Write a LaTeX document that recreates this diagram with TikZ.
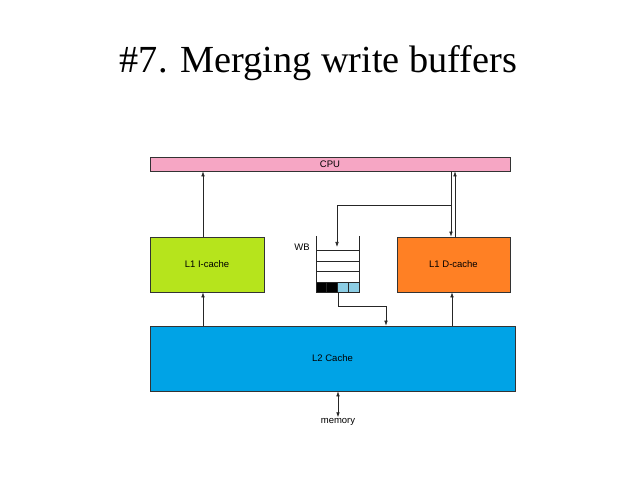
\documentclass[tikz,border=0pt]{standalone}
\usepackage{fontspec}
\setmainfont{Liberation Serif}
\setsansfont{Liberation Sans}
\usetikzlibrary{arrows.meta}
\definecolor{cpupink}{RGB}{246,166,196}
\definecolor{icgreen}{RGB}{182,228,28}
\definecolor{dcorange}{RGB}{255,128,36}
\definecolor{ltwoblue}{RGB}{0,163,230}
\definecolor{wbblue}{RGB}{140,205,228}
\tikzset{
  box/.style={draw=black!80,line width=0.7pt,inner sep=0pt,
    font=\sffamily\fontsize{9.5}{11}\selectfont},
  lbl/.style={inner sep=1pt,font=\sffamily\fontsize{9.5}{11}\selectfont},
  wire/.style={draw=black!85,line width=0.6pt},
  tip/.style={-{Latex[length=5pt,width=3.6pt]}},
  tips/.style={{Latex[length=5pt,width=3.6pt]}-{Latex[length=5pt,width=3.6pt]}}
}
\begin{document}
\begin{tikzpicture}[x=1pt,y=-1pt]
  \useasboundingbox (0,0) rectangle (638,478);
  \node[anchor=base] (title) at (318.5,73)
    {\fontsize{38.3}{42}\selectfont \#7. Merging write buffers};
  % caches
  \node[box,fill=cpupink,minimum width=360,minimum height=14] (CPU) at (330,164) {CPU};
  \node[box,fill=icgreen,minimum width=114,minimum height=55] (Icache) at (207,264.5) {L1 I-cache};
  \node[box,fill=dcorange,minimum width=113,minimum height=55] (Dcache) at (453.5,264.5) {L1 D-cache};
  \node[box,fill=ltwoblue,minimum width=365,minimum height=65] (L2) at (332.5,358.5) {L2 Cache};
  % write buffer
  \node[lbl] (WB) at (302,247) {WB};
  \draw[wire] (316,236) -- (316,292) (359,236) -- (359,292);
  \foreach \yy in {250,261,271,282}
    \draw[wire] (316,\yy) -- (359,\yy);
  \foreach \i/\c in {1/black,2/black,3/wbblue,4/wbblue}
    \node[draw=black!85,line width=0.6pt,fill=\c,inner sep=0pt,
      minimum width=10.75,minimum height=10] (wb\i) at (316+10.75*\i-5.375,287) {};
  \node[lbl] (mem) at (338,422) {memory};
  % wires
  \coordinate (ix) at (203,0);
  \coordinate (dx) at (451,0);
  \coordinate (ux) at (455,0);
  \coordinate (lx) at (452,0);
  \coordinate (split) at (451,205);
  \coordinate (wbin) at (337,247);
  \coordinate (wbout) at (386,306);
  \draw[wire,tip] (Icache.north -| ix) -- (CPU.south -| ix);
  \draw[wire,tip] (L2.north -| ix) -- (Icache.south -| ix);
  \draw[wire,tip] (CPU.south -| dx) -- (Dcache.north -| dx);
  \draw[wire,tip] (Dcache.north -| ux) -- (CPU.south -| ux);
  \draw[wire,tip] (L2.north -| lx) -- (Dcache.south -| lx);
  \draw[wire,tip] (split) -| (wbin);
  \draw[wire,tip] (wb2.south east) |- (wbout) -- (L2.north -| wbout);
  \draw[wire,tips] (L2.south -| mem) -- (mem.north);
\end{tikzpicture}
\end{document}
